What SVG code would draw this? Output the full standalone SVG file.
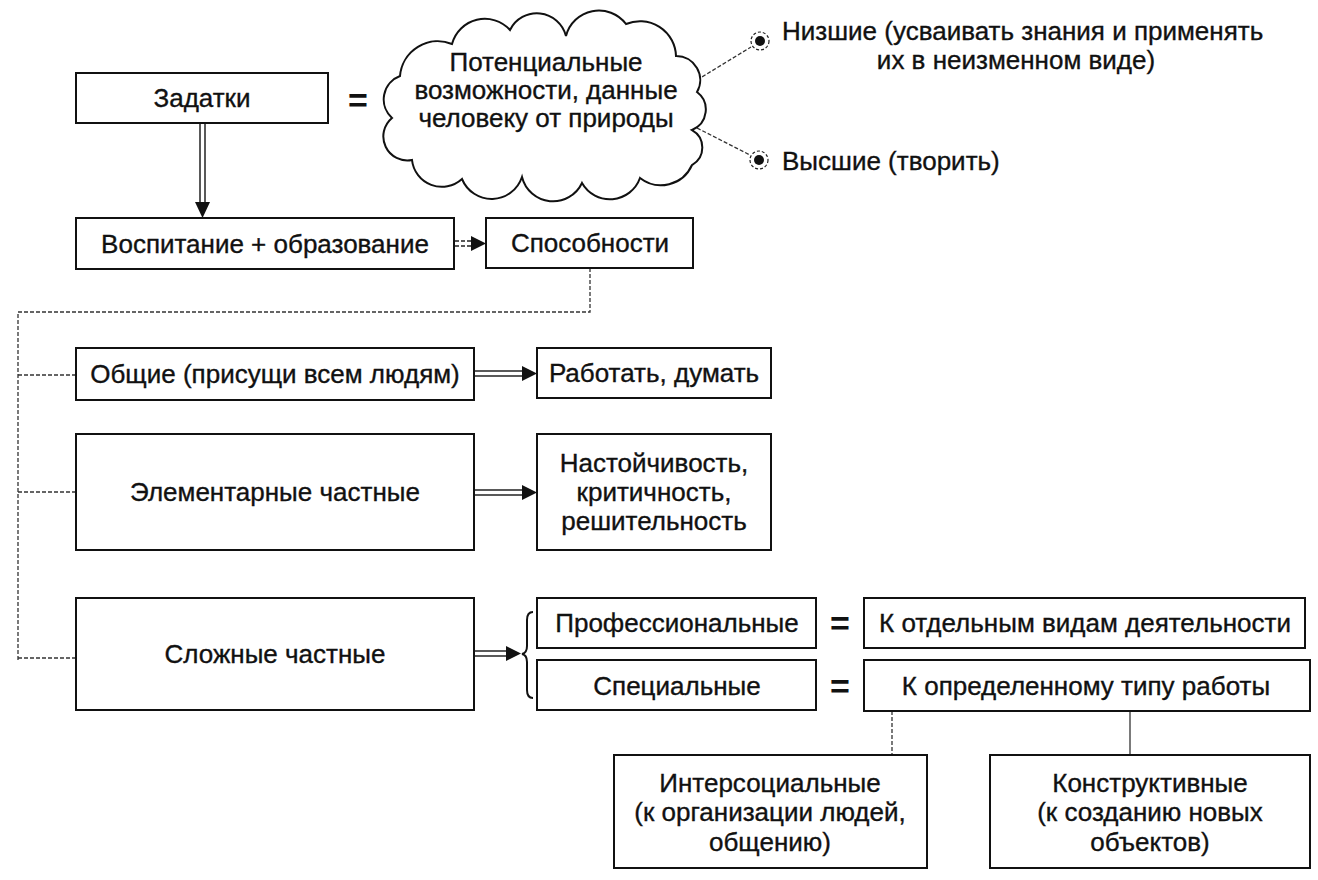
<svg xmlns="http://www.w3.org/2000/svg" width="1318" height="880" viewBox="0 0 1318 880">
<defs>
<style>
.box{fill:#fff;stroke:#111;stroke-width:2}
.t{font-family:"Liberation Sans",Arial,sans-serif;font-size:26px;fill:#111;stroke:#111;stroke-width:0.35;text-anchor:middle}
.tl{font-family:"Liberation Sans",Arial,sans-serif;font-size:26px;fill:#111;stroke:#111;stroke-width:0.35}
.eq{font-family:"Liberation Sans",Arial,sans-serif;font-size:34px;font-weight:bold;fill:#111;text-anchor:middle}
.dot{fill:#fff;stroke:#222;stroke-width:1.2;stroke-dasharray:3 2}
.dotline{fill:none;stroke:#333;stroke-width:1.3;stroke-dasharray:4 2}
.thin{fill:none;stroke:#333;stroke-width:1.3}
.dbl{fill:none;stroke:#222;stroke-width:1.5}
.head{fill:#111}
</style>
</defs>
<rect width="1318" height="880" fill="#fff"/>

<g id="connectors">
  <line class="dbl" x1="200" y1="123" x2="200" y2="204"/>
  <line class="dbl" x1="205" y1="123" x2="205" y2="204"/>
  <polygon class="head" points="195,202 210,202 202.5,218"/>
  <line class="dbl" x1="455" y1="241" x2="473" y2="241" stroke-dasharray="4 2"/>
  <line class="dbl" x1="455" y1="246" x2="473" y2="246" stroke-dasharray="4 2"/>
  <polygon class="head" points="471,236 486,243.5 471,251"/>
  <line class="dotline" x1="697" y1="80" x2="751" y2="47"/>
  <line class="dotline" x1="697" y1="128" x2="750" y2="155"/>
  <polyline class="dotline" points="590,268 590,312 18,312 18,660"/>
  <line class="dotline" x1="18" y1="375" x2="76" y2="375"/>
  <line class="dotline" x1="18" y1="492" x2="76" y2="492"/>
  <line class="dotline" x1="18" y1="658" x2="76" y2="658"/>
  <line class="dbl" x1="475" y1="371" x2="524" y2="371"/>
  <line class="dbl" x1="475" y1="376" x2="524" y2="376"/>
  <polygon class="head" points="522,366 537,373.5 522,381"/>
  <line class="dbl" x1="475" y1="490" x2="524" y2="490"/>
  <line class="dbl" x1="475" y1="495" x2="524" y2="495"/>
  <polygon class="head" points="522,485 537,492.5 522,500"/>
  <line class="dbl" x1="475" y1="651" x2="508" y2="651"/>
  <line class="dbl" x1="475" y1="656" x2="508" y2="656"/>
  <polygon class="head" points="506,646 521,653.5 506,661"/>
  <path d="M533,612 Q527,612 527,620 L527,646 Q527,653 522,654 Q527,655 527,662 L527,690 Q527,698 533,698" fill="none" stroke="#111" stroke-width="2"/>
  <line class="dotline" x1="892" y1="711" x2="892" y2="755"/>
  <line class="thin" x1="1130" y1="711" x2="1130" y2="755"/>
</g>

<g id="n-zadatki">
  <rect class="box" x="76" y="73" width="252" height="50"/>
  <text class="t" x="202" y="107">Задатки</text>
</g>
<g id="eq1"><text class="eq" x="358" y="112">=</text></g>

<g id="n-cloud">
  <path class="box" d="M392,118 A25,25 0 0 1 400,76 A38,38 0 0 1 452,44 A34,34 0 0 1 510,30 A30,30 0 0 1 566,36 A34,34 0 0 1 626,24 A36,36 0 0 1 676,56 A24,24 0 0 1 697,92 A22,22 0 0 1 692,130 A20,20 0 0 1 692,165 A34,34 0 0 1 640,178 A32,32 0 0 1 582,183 A32,32 0 0 1 522,177 A32,32 0 0 1 462,179 A30,30 0 0 1 412,160 A24,24 0 0 1 392,118 Z"/>
  <text class="t" x="546" y="71">Потенциальные</text>
  <text class="t" x="546" y="99">возможности, данные</text>
  <text class="t" x="546" y="127">человеку от природы</text>
</g>

<g id="n-low">
  <circle class="dot" cx="760" cy="41" r="9"/>
  <circle cx="760" cy="41" r="5" fill="#111"/>
  <text class="tl" x="782" y="40">Низшие (усваивать знания и применять</text>
  <text class="t" x="1016" y="69">их в неизменном виде)</text>
</g>
<g id="n-high">
  <circle class="dot" cx="759" cy="160" r="9"/>
  <circle cx="759" cy="160" r="5" fill="#111"/>
  <text class="tl" x="782" y="170">Высшие (творить)</text>
</g>

<g id="n-vosp">
  <rect class="box" x="76" y="218" width="378" height="51"/>
  <text class="t" x="265" y="253">Воспитание + образование</text>
</g>
<g id="n-spos">
  <rect class="box" x="486" y="218" width="207" height="50"/>
  <text class="t" x="590" y="252">Способности</text>
</g>

<g id="n-obsh">
  <rect class="box" x="76" y="348" width="398" height="52"/>
  <text class="t" x="275" y="383">Общие (присущи всем людям)</text>
</g>
<g id="n-rab">
  <rect class="box" x="537" y="348" width="234" height="50"/>
  <text class="t" x="654" y="382">Работать, думать</text>
</g>

<g id="n-elem">
  <rect class="box" x="76" y="434" width="398" height="116"/>
  <text class="t" x="275" y="501">Элементарные частные</text>
</g>
<g id="n-nast">
  <rect class="box" x="537" y="434" width="234" height="116"/>
  <text class="t" x="654" y="472">Настойчивость,</text>
  <text class="t" x="654" y="501">критичность,</text>
  <text class="t" x="654" y="530">решительность</text>
</g>

<g id="n-slozh">
  <rect class="box" x="76" y="598" width="398" height="112"/>
  <text class="t" x="275" y="663">Сложные частные</text>
</g>
<g id="n-prof">
  <rect class="box" x="537" y="598" width="279" height="50"/>
  <text class="t" x="677" y="632">Профессиональные</text>
</g>
<g id="n-spec">
  <rect class="box" x="537" y="660" width="279" height="50"/>
  <text class="t" x="677" y="695">Специальные</text>
</g>
<g id="eq2"><text class="eq" x="840" y="635">=</text></g>
<g id="eq3"><text class="eq" x="840" y="698">=</text></g>
<g id="n-otd">
  <rect class="box" x="864" y="598" width="441" height="50"/>
  <text class="t" x="1085" y="632">К отдельным видам деятельности</text>
</g>
<g id="n-opr">
  <rect class="box" x="864" y="660" width="446" height="51"/>
  <text class="t" x="1086" y="695">К определенному типу работы</text>
</g>

<g id="n-inter">
  <rect class="box" x="614" y="755" width="313" height="113"/>
  <text class="t" x="770" y="792">Интерсоциальные</text>
  <text class="t" x="770" y="821">(к организации людей,</text>
  <text class="t" x="770" y="851">общению)</text>
</g>
<g id="n-konst">
  <rect class="box" x="990" y="755" width="320" height="113"/>
  <text class="t" x="1150" y="792">Конструктивные</text>
  <text class="t" x="1150" y="821">(к созданию новых</text>
  <text class="t" x="1150" y="851">объектов)</text>
</g>
</svg>
